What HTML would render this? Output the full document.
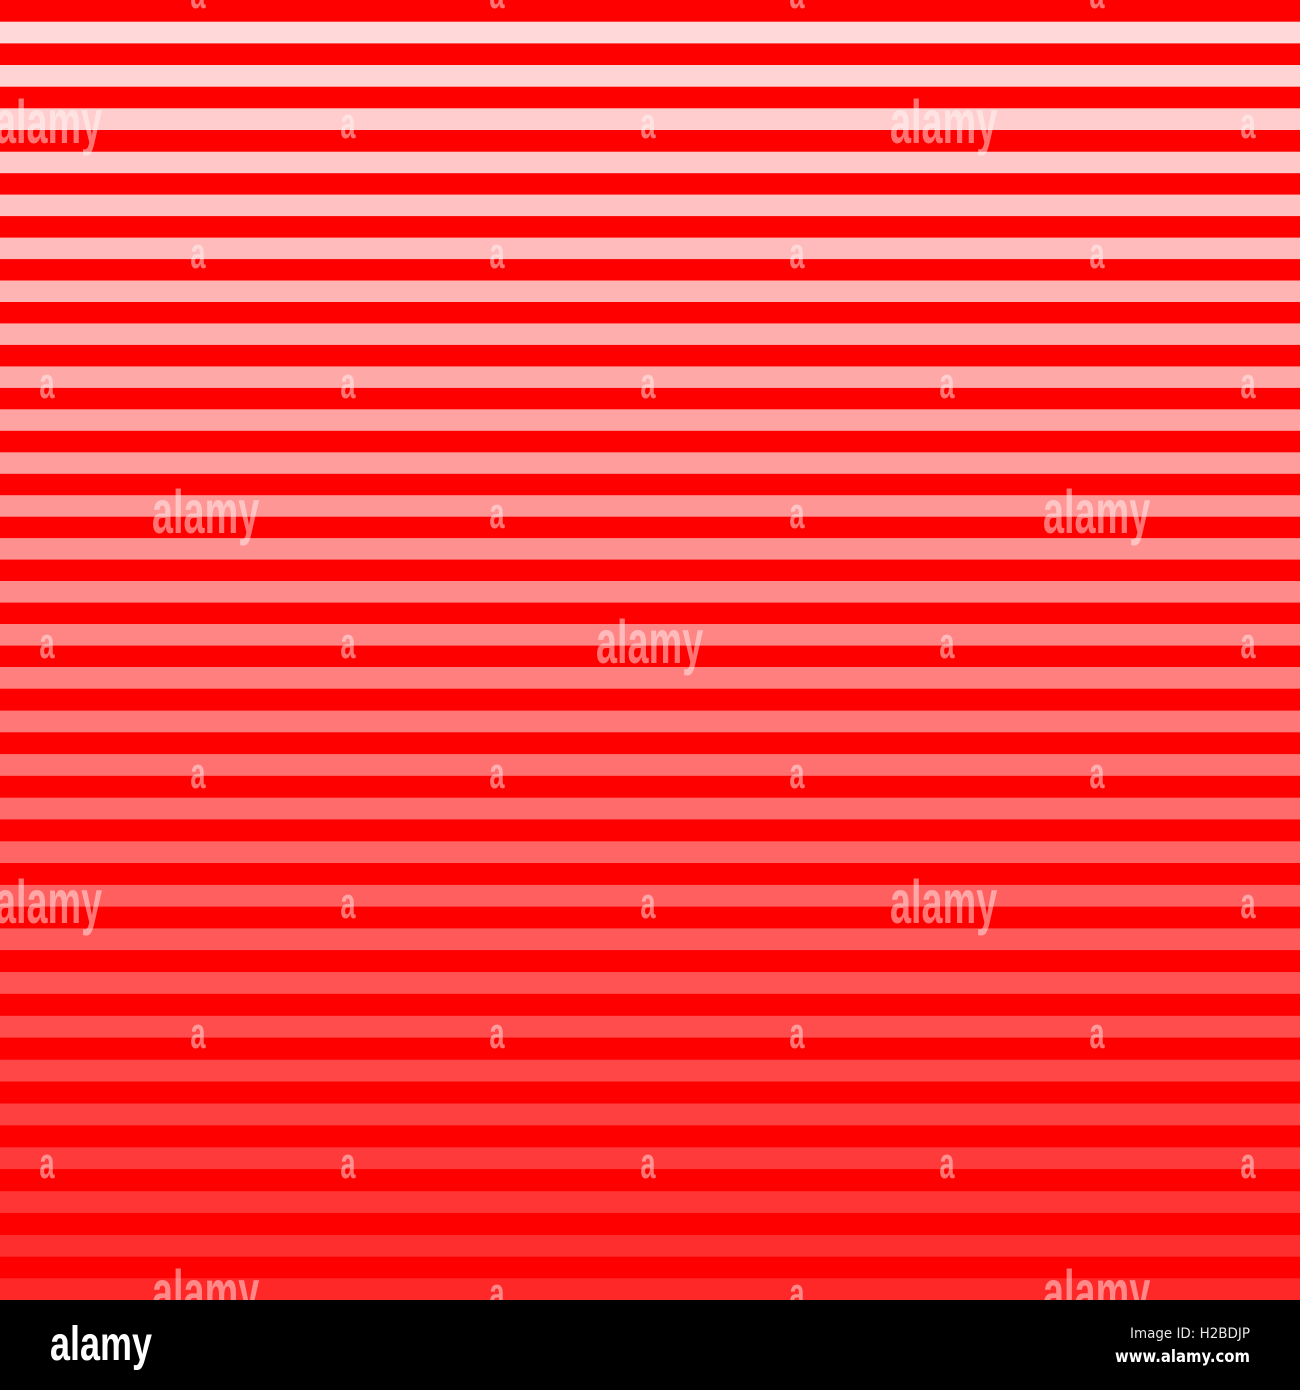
<!DOCTYPE html>
<html>
<head>
<meta charset="utf-8">
<style>
html,body{margin:0;padding:0;background:#000}
svg{display:block}
.w{fill:rgba(255,255,255,0.45);font-family:"Liberation Sans",sans-serif;font-weight:bold}
</style>
</head>
<body>
<svg width="1300" height="1390" viewBox="0 0 1300 1390" xmlns="http://www.w3.org/2000/svg">
<rect width="1300" height="1300" fill="#f00"/>
<g>
<rect y="21.7" width="1300" height="21.7" fill="#ffd9d9"/>
<rect y="65" width="1300" height="21.7" fill="#ffd3d3"/>
<rect y="108.3" width="1300" height="21.7" fill="#ffcdcd"/>
<rect y="151.7" width="1300" height="21.5" fill="#ffc7c7"/>
<rect y="194.6" width="1300" height="21.5" fill="#ffc1c1"/>
<rect y="237.6" width="1300" height="21.5" fill="#ffbbbb"/>
<rect y="280.5" width="1300" height="21.5" fill="#ffb4b4"/>
<rect y="323.4" width="1300" height="21.5" fill="#ffaeae"/>
<rect y="366.4" width="1300" height="21.5" fill="#ffa8a8"/>
<rect y="409.3" width="1300" height="21.5" fill="#ffa2a2"/>
<rect y="452.3" width="1300" height="21.5" fill="#ff9c9c"/>
<rect y="495.2" width="1300" height="21.5" fill="#ff9696"/>
<rect y="538.1" width="1300" height="21.5" fill="#ff9090"/>
<rect y="581" width="1300" height="21.6" fill="#ff8a8a"/>
<rect y="624" width="1300" height="21.6" fill="#ff8484"/>
<rect y="667" width="1300" height="21.7" fill="#ff7e7e"/>
<rect y="710.6" width="1300" height="21.7" fill="#ff7777"/>
<rect y="754.1" width="1300" height="21.7" fill="#ff7171"/>
<rect y="797.7" width="1300" height="21.7" fill="#ff6b6b"/>
<rect y="841.3" width="1300" height="21.7" fill="#ff6565"/>
<rect y="884.9" width="1300" height="21.7" fill="#ff5f5f"/>
<rect y="928.4" width="1300" height="21.7" fill="#ff5959"/>
<rect y="972" width="1300" height="21.8" fill="#ff5353"/>
<rect y="1015.8" width="1300" height="21.8" fill="#ff4d4d"/>
<rect y="1059.7" width="1300" height="21.8" fill="#ff4747"/>
<rect y="1103.5" width="1300" height="21.8" fill="#ff4040"/>
<rect y="1147.3" width="1300" height="21.8" fill="#ff3a3a"/>
<rect y="1191.2" width="1300" height="21.8" fill="#ff3434"/>
<rect y="1235" width="1300" height="21.7" fill="#ff2e2e"/>
<rect y="1278.3" width="1300" height="21.7" fill="#ff2828"/>
</g>
<g class="w" transform="scale(0.62,1)" font-size="44" text-anchor="middle">
<text x="319.4 801.6 1285.5 1769.4" y="8">aaaa</text>
<text x="561.3 1045.2 2012.9" y="138">aaa</text>
<text x="319.4 801.6 1285.5 1769.4" y="268">aaaa</text>
<text x="75.8 561.3 1045.2 1527.4 2012.9" y="398">aaaaa</text>
<text x="801.6 1285.5" y="528">aa</text>
<text x="75.8 561.3 1527.4 2012.9" y="658">aaaa</text>
<text x="319.4 801.6 1285.5 1769.4" y="788">aaaa</text>
<text x="561.3 1045.2 2012.9" y="918">aaa</text>
<text x="319.4 801.6 1285.5 1769.4" y="1048">aaaa</text>
<text x="75.8 561.3 1045.2 1527.4 2012.9" y="1178">aaaaa</text>
<text x="801.6 1285.5" y="1308">aa</text>
</g>
<g class="w" transform="scale(0.62,1)" font-size="61">
<text x="-8.1" y="143">alamy</text>
<text x="1435.5" y="143">alamy</text>
<text x="245.2" y="533">alamy</text>
<text x="1682.3" y="533">alamy</text>
<text x="961.3" y="663">alamy</text>
<text x="-8.1" y="923">alamy</text>
<text x="1435.5" y="923">alamy</text>
<text x="245.2" y="1313">alamy</text>
<text x="1682.3" y="1313">alamy</text>
</g>
<rect y="1300" width="1300" height="90" fill="#000"/>
<text x="50" y="1360" font-family="Liberation Sans, sans-serif" font-weight="bold" font-size="48" fill="#fff" textLength="102" lengthAdjust="spacingAndGlyphs">alamy</text>
<text x="1130" y="1338" font-family="DejaVu Sans, Liberation Sans, sans-serif" font-size="14" fill="#e8e8e8" textLength="120" lengthAdjust="spacingAndGlyphs">Image ID: H2BDJP</text>
<text x="1115" y="1362" font-family="DejaVu Sans, Liberation Sans, sans-serif" font-weight="bold" font-size="17" fill="#fff" textLength="135" lengthAdjust="spacingAndGlyphs">www.alamy.com</text>
</svg>
</body>
</html>
